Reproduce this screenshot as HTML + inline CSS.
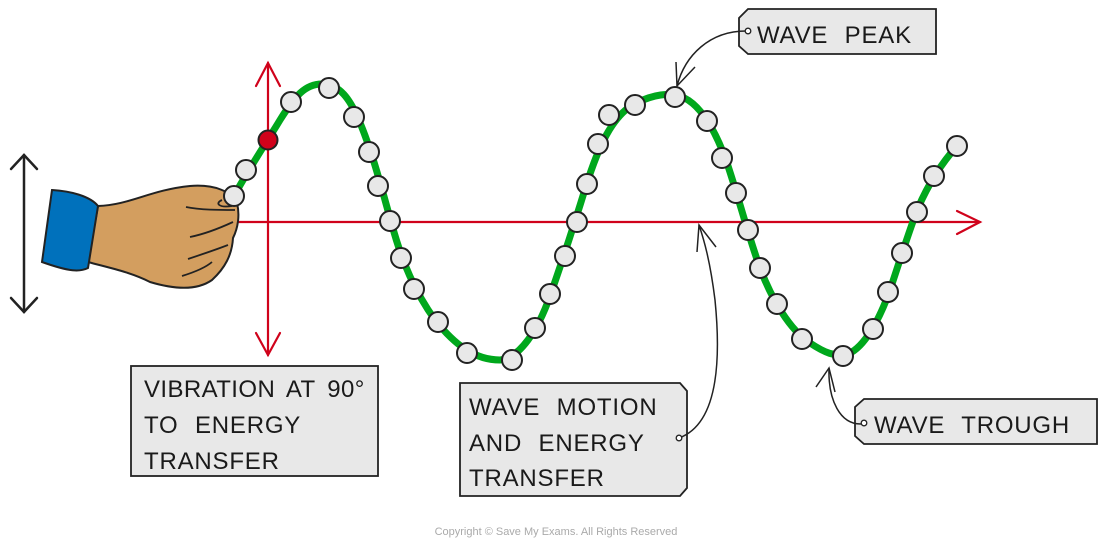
<!DOCTYPE html>
<html><head><style>
html,body{margin:0;padding:0;background:#fff;}
svg{display:block}
text{font-family:"Liberation Sans",sans-serif;font-size:24px;fill:#1a1a1a;letter-spacing:0.8px;word-spacing:9px}
</style></head><body>
<svg width="1110" height="542" viewBox="0 0 1110 542">
<defs>
<g id="b"><circle r="10" fill="#e8e8e8" stroke="#222" stroke-width="2"/></g>
</defs>
<g stroke="#222" stroke-width="2.5" fill="none" stroke-linecap="round">
<line x1="24" y1="155" x2="24" y2="312"/>
<polyline points="11,169 24,155 37,169"/>
<polyline points="11,298 24,312 37,298"/>
</g>
<g stroke="#d0021b" stroke-width="2.2" fill="none" stroke-linecap="round">
<line x1="268" y1="63" x2="268" y2="355"/>
<polyline points="256,86 268,63 280,86"/>
<polyline points="256,333 268,355 280,333"/>
<line x1="238" y1="222" x2="980" y2="222"/>
<polyline points="957,211 980,222 957,234"/>
</g>
<path d="M98,206 C130,205 150,190 190,186 C215,184 232,192 237,203 C240,215 238,228 233,238 C232,255 225,268 212,280 C195,292 170,288 150,282 C130,272 110,268 88,262 Z" fill="#d39e5f" stroke="#222" stroke-width="2"/>
<path d="M52,190 C70,191 90,196 98,206 L88,268 C80,272 70,272 42,262 Z" fill="#0071bc" stroke="#222" stroke-width="2"/>
<g stroke="#222" stroke-width="1.8" fill="none">
<path d="M186,207 C200,210 220,210 235,210"/>
<path d="M190,237 C205,234 220,228 233,222"/>
<path d="M188,259 C200,255 215,250 228,245"/>
<path d="M182,276 C195,272 205,268 212,262"/>
<path d="M222,200 C215,203 218,208 232,206"/>
</g>
<path d="M234,196 C248,170 268,140 280,120 C295,96 305,84 322,84 C340,84 350,100 358,118 C372,150 382,190 392,225 C402,262 415,292 435,320 C455,345 475,360 500,360 C520,358 538,330 550,296 C562,262 574,225 586,186 C598,148 612,115 636,103 C655,94 668,93 680,96 C700,103 715,130 726,160 C738,195 748,235 760,268 C772,300 790,330 810,343 C825,353 835,357 848,354 C865,347 880,318 890,290 C900,260 910,228 918,208 C928,185 940,165 957,146" fill="none" stroke="#00a81c" stroke-width="7" stroke-linecap="round"/>
<g>
<use href="#b" x="234" y="196"/><use href="#b" x="246" y="170"/>
<use href="#b" x="291" y="102"/><use href="#b" x="329" y="88"/><use href="#b" x="354" y="117"/>
<use href="#b" x="369" y="152"/><use href="#b" x="378" y="186"/><use href="#b" x="390" y="221"/>
<use href="#b" x="401" y="258"/><use href="#b" x="414" y="289"/><use href="#b" x="438" y="322"/>
<use href="#b" x="467" y="353"/><use href="#b" x="512" y="360"/><use href="#b" x="535" y="328"/>
<use href="#b" x="550" y="294"/><use href="#b" x="565" y="256"/><use href="#b" x="577" y="222"/>
<use href="#b" x="587" y="184"/><use href="#b" x="598" y="144"/><use href="#b" x="609" y="115"/>
<use href="#b" x="635" y="105"/><use href="#b" x="675" y="97"/><use href="#b" x="707" y="121"/>
<use href="#b" x="722" y="158"/><use href="#b" x="736" y="193"/><use href="#b" x="748" y="230"/>
<use href="#b" x="760" y="268"/><use href="#b" x="777" y="304"/><use href="#b" x="802" y="339"/>
<use href="#b" x="843" y="356"/><use href="#b" x="873" y="329"/><use href="#b" x="888" y="292"/>
<use href="#b" x="902" y="253"/><use href="#b" x="917" y="212"/><use href="#b" x="934" y="176"/>
<use href="#b" x="957" y="146"/>
<circle cx="268" cy="140" r="9.5" fill="#d0021b" stroke="#222" stroke-width="2"/>
</g>
<g fill="#e8e8e8" stroke="#222" stroke-width="1.8">
<rect x="131" y="366" width="247" height="110"/>
<path d="M460,383 H680 L687,391 V488 L680,496 H460 Z"/>
<path d="M748,9 H936 V54 H748 L739,46 V18 Z"/>
<path d="M864,399 H1097 V444 H864 L855,436 V407 Z"/>
</g>
<text x="144" y="397" style="letter-spacing:0.4px;word-spacing:5px">VIBRATION AT 90°</text>
<text x="144" y="433">TO ENERGY</text>
<text x="144" y="469">TRANSFER</text>
<text x="469" y="415">WAVE MOTION</text>
<text x="469" y="451">AND ENERGY</text>
<text x="469" y="486">TRANSFER</text>
<text x="757" y="43">WAVE PEAK</text>
<text x="874" y="433">WAVE TROUGH</text>
<g stroke="#222" stroke-width="1.5" fill="none">
<path d="M746,31 C710,31 685,55 677,86"/>
<polyline points="676,62 677,86 695,67"/>
<path d="M679,438 C715,425 722,370 715,300 C710,260 704,240 699,225"/>
<polyline points="697,252 699,225 716,247"/>
<path d="M862,424 C840,425 828,400 829,368"/>
<polyline points="816,387 829,368 835,392"/>
</g>
<g fill="#fff" stroke="#222" stroke-width="1.3">
<circle cx="748" cy="31" r="2.8"/><circle cx="679" cy="438" r="2.8"/><circle cx="864" cy="423" r="2.8"/>
</g>
<text x="556" y="535" style="font-size:11px;fill:#aaa;letter-spacing:0;word-spacing:0" text-anchor="middle">Copyright © Save My Exams. All Rights Reserved</text>
</svg>
</body></html>
